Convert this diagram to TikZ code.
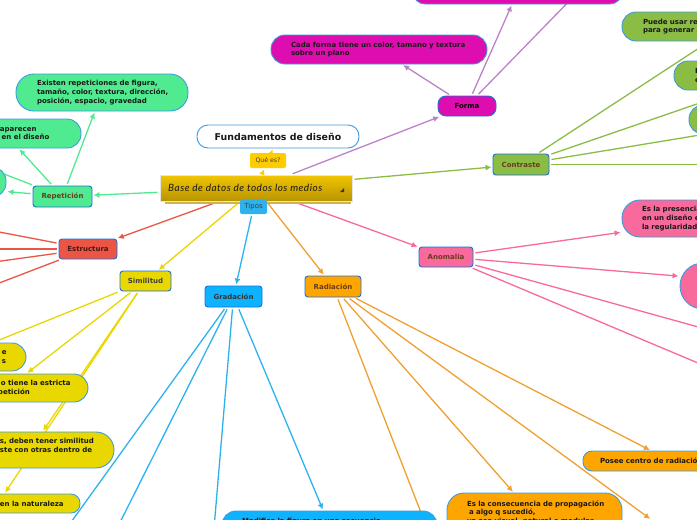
\documentclass[tikz,border=0pt]{standalone}
\usepackage{fontspec}
\setmainfont{DejaVu Sans}
\newfontfamily\handfont[LetterSpace=5]{Lato}
\usetikzlibrary{backgrounds,arrows.meta}
\definecolor{cRep}{HTML}{50EB91}
\definecolor{cEst}{HTML}{EB5545}
\definecolor{cSim}{HTML}{E8D800}
\definecolor{cGra}{HTML}{0EB3FF}
\definecolor{cGraL}{HTML}{2DB2F0}
\definecolor{cRad}{HTML}{FFA500}
\definecolor{cRadL}{HTML}{F0A030}
\definecolor{cAno}{HTML}{F76A9B}
\definecolor{cFor}{HTML}{DD0DB0}
\definecolor{cForL}{HTML}{BC82C8}
\definecolor{cCon}{HTML}{8BBD45}
\definecolor{cBord}{HTML}{3A9BE0}
\definecolor{cMain}{HTML}{1C6FD8}
\definecolor{cQue}{HTML}{FFCC00}
\definecolor{cRootA}{HTML}{F2C600}
\definecolor{cRootB}{HTML}{B89400}
\definecolor{cBrown}{HTML}{6B3A1F}
\tikzset{
  x=1pt,y=-1pt,
  bubble/.style={draw=cBord,line width=.9pt,align=left,font=\fontsize{7}{8.7}\selectfont\bfseries,text=black!90,inner ysep=0pt,anchor=center},
  topic/.style={draw=cMain,line width=.9pt,rounded corners=3pt,align=center,font=\fontsize{7}{8.7}\selectfont\bfseries,text=cBrown,inner sep=0pt,anchor=center},
  conn/.style={line width=1.3pt,-{Latex[length=6pt,width=6pt]},shorten >=1pt,shorten <=2pt},
}
\begin{document}
\begin{tikzpicture}
\useasboundingbox (0,0) rectangle (697,520);
\clip (0,0) rectangle (697,520);
% main nodes
\node[fill=cRootB!70!white,minimum width=186pt,minimum height=4pt,inner sep=0pt] (rootsh) at (258,202) {};
\node[draw=white!90!black,line width=1pt,top color=cRootA,bottom color=cRootB,minimum width=192pt,minimum height=26pt,inner sep=0pt] (root) at (256,188) {};
\node[anchor=west,inner sep=0pt,font=\handfont\fontsize{10}{12}\selectfont\itshape,text=black!90] (roott) at (168,188) {Base de datos de todos los medios};
\fill[black!80] (344,192) -- (340,192) -- (344,188) -- cycle;
\node[draw=cBord,line width=.9pt,fill=white,rounded corners=11pt,minimum width=162pt,minimum height=23pt,inner sep=0pt,font=\fontsize{9.4}{12}\selectfont\bfseries,text=black!90] (fund) at (278,136.5) {Fundamentos de diseño};
\node[fill=cQue,rounded corners=2pt,minimum width=36pt,minimum height=15pt,inner sep=0pt,font=\fontsize{6.2}{8}\selectfont,text=black!75] (que) at (268,160.5) {Qué es?};
\node[fill=cGraL,rounded corners=2pt,minimum width=27pt,minimum height=14pt,inner sep=0pt,font=\fontsize{7}{8}\selectfont,text=black!75] (tipos) at (253.5,207) {Tipos};
\node[topic,fill=cRep,minimum width=59pt,minimum height=21pt] (rep) at (62.5,196.5) {Repetición};
\node[topic,fill=cEst,minimum width=58pt,minimum height=20pt,text=black!70!cEst] (est) at (88,249) {Estructura};
\node[topic,fill=cSim,minimum width=51pt,minimum height=20pt,text=black!75] (sim) at (145.5,281) {Similitud};
\node[topic,fill=cGra,minimum width=57pt,minimum height=21pt,text=black!80] (gra) at (233.5,296.5) {Gradación};
\node[topic,fill=cRad,minimum width=56pt,minimum height=21pt] (rad) at (333,286.5) {Radiación};
\node[topic,fill=cAno,minimum width=54pt,minimum height=20pt] (ano) at (446,257) {Anomalia};
\node[topic,fill=cFor,rounded corners=8pt,minimum width=58pt,minimum height=20pt,text=black] (for) at (467,106) {Forma};
\node[topic,fill=cCon,minimum width=56pt,minimum height=21pt] (con) at (521,164.5) {Contraste};
% repetición bubbles
\node[bubble,fill=cRep,rounded corners=18pt,minimum height=37pt,inner xsep=21pt,text width=130pt] (r1) at (102,92.5) {\mbox{Existen repeticiones de figura,}\\\mbox{tamaño, color, textura, dirección,}\\\mbox{posición, espacio, gravedad}};
\node[bubble,fill=cRep,rounded corners=14pt,minimum height=29pt,inner xsep=0pt,text width=152pt] (r2) at (5,133.5) {\hspace*{71pt}aparecen\\\hspace*{57pt}vez en el diseño};
\node[bubble,fill=cRep,rounded corners=14pt,minimum height=30pt,minimum width=212pt] (r3) at (-100,182) {};
\coordinate (r4) at (-30,161);
% estructura
\coordinate (e1) at (-100,213);
\coordinate (e2) at (-100,249);
\coordinate (e3) at (-100,275);
\coordinate (e4) at (-100,321);
% similitud bubbles
\node[bubble,fill=cSim,rounded corners=14pt,minimum height=28pt,inner xsep=0pt,text width=180pt] (s1) at (-64,357) {\hspace*{156pt}e\\\hspace*{156pt}s};
\node[bubble,fill=cSim,rounded corners=14pt,minimum height=28pt,inner xsep=0pt,text width=160pt] (s2) at (8,388) {\hspace*{73pt}o tiene la estricta\\\hspace*{70pt}petición};
\node[bubble,fill=cSim,rounded corners=18pt,minimum height=36pt,inner xsep=0pt,text width=168pt] (s3) at (30,450) {\hspace*{54pt}s, deben tener similitud\\\hspace*{54pt}ste con otras dentro de\\\mbox{}};
\node[bubble,fill=cSim,rounded corners=9pt,minimum height=19pt,inner xsep=0pt,text width=164pt] (s4) at (-2,503.5) {\hspace*{84pt}en la naturaleza};
\coordinate (s5) at (-100,380);
% gradación
\node[bubble,fill=cGra,rounded corners=14pt,minimum height=29pt,inner xsep=20pt,text width=175pt] (g1) at (329.5,525.5) {\mbox{Modifica la figura en una secuencia}\\\mbox{}};
\coordinate (g2) at (15,600);
\coordinate (g3) at (81,600);
\coordinate (g4) at (208,600);
% radiación
\node[bubble,fill=cRad,rounded corners=17pt,minimum height=47pt,inner xsep=20pt,text width=135pt] (a1) at (534.5,516.5) {\mbox{Es la consecuencia de propagación}\\\hspace*{2pt}a algo q sucedió,\\\mbox{ya sea visual, natural o modular}\\\mbox{}};
\node[bubble,fill=cRad,rounded corners=9pt,minimum height=20pt,inner xsep=17pt,text width=142pt] (a2) at (671,461) {Posee centro de radiación};
\coordinate (a3) at (651,519.5);
\coordinate (a4) at (455,600);
% anomalía
\node[bubble,fill=cAno,rounded corners=18pt,minimum height=37pt,inner xsep=20pt,text width=154pt] (n1) at (719,218.5) {Es la presencia\\en un diseño e\\la regularidad};
\node[bubble,fill=cAno,rounded corners=23pt,minimum height=46pt,minimum width=240pt] (n2) at (800,286) {};
\coordinate (n3) at (900,383);
\coordinate (n4) at (900,448);
% forma
\node[bubble,fill=cFor,rounded corners=14pt,minimum height=29pt,inner xsep=20pt,text width=176pt] (f1) at (379,49.5) {Cada forma tiene un color, tamano y textura\\sobre un plano};
\node[bubble,fill=cFor,rounded corners=12pt,minimum height=24pt,minimum width=209pt] (f2) at (517.5,-8) {};
\coordinate (f3) at (580,-10);
% contraste
\node[bubble,fill=cCon,rounded corners=14pt,minimum height=29pt,inner xsep=21pt,text width=98pt] (c1) at (692,26.5) {Puede usar re\\para generar a};
\node[bubble,fill=cCon,rounded corners=14pt,minimum height=29pt,inner xsep=21pt,text width=78pt] (c2) at (734,75.5) {E\\e};
\node[bubble,fill=cCon,rounded corners=14pt,minimum height=29pt,minimum width=120pt] (c3) at (749,119.5) {};
\coordinate (c4) at (800,-18);
\coordinate (c5) at (800,68.5);
\coordinate (c6) at (800,118.5);
\coordinate (c7) at (800,164.5);
% connectors
\begin{scope}[on background layer]
\foreach \t/\c in {rep/cRep,est/cEst,sim/cSim,rad/cRadL,ano/cAno,for/cForL,con/cCon}
  \draw[conn,\c] (root) -- (\t);
\draw[conn,cQue] (root) -- (que);
\draw[conn,cQue] (que) -- (fund);
\draw[conn,cGraL] (root) -- (tipos);
\draw[conn,cGraL] (tipos) -- (gra);
\foreach \t in {r1,r2,r3,r4} \draw[conn,cRep] (rep) -- (\t);
\foreach \t in {e1,e2,e3,e4} \draw[conn,cEst] (est) -- (\t);
\foreach \t in {s2,s3,s4,s5} \draw[conn,cSim] (sim) -- (\t);
\foreach \t in {g1,g2,g3,g4} \draw[conn,cGraL] (gra) -- (\t);
\foreach \t in {a1,a2,a3,a4} \draw[conn,cRadL] (rad) -- (\t);
\foreach \t in {n1,n2,n3,n4} \draw[conn,cAno] (ano) -- (\t);
\foreach \t in {f1,f2,f3} \draw[conn,cForL] (for) -- (\t);
\foreach \t in {c4,c5,c6,c7} \draw[conn,cCon] (con) -- (\t);
\end{scope}
\end{tikzpicture}
\end{document}
